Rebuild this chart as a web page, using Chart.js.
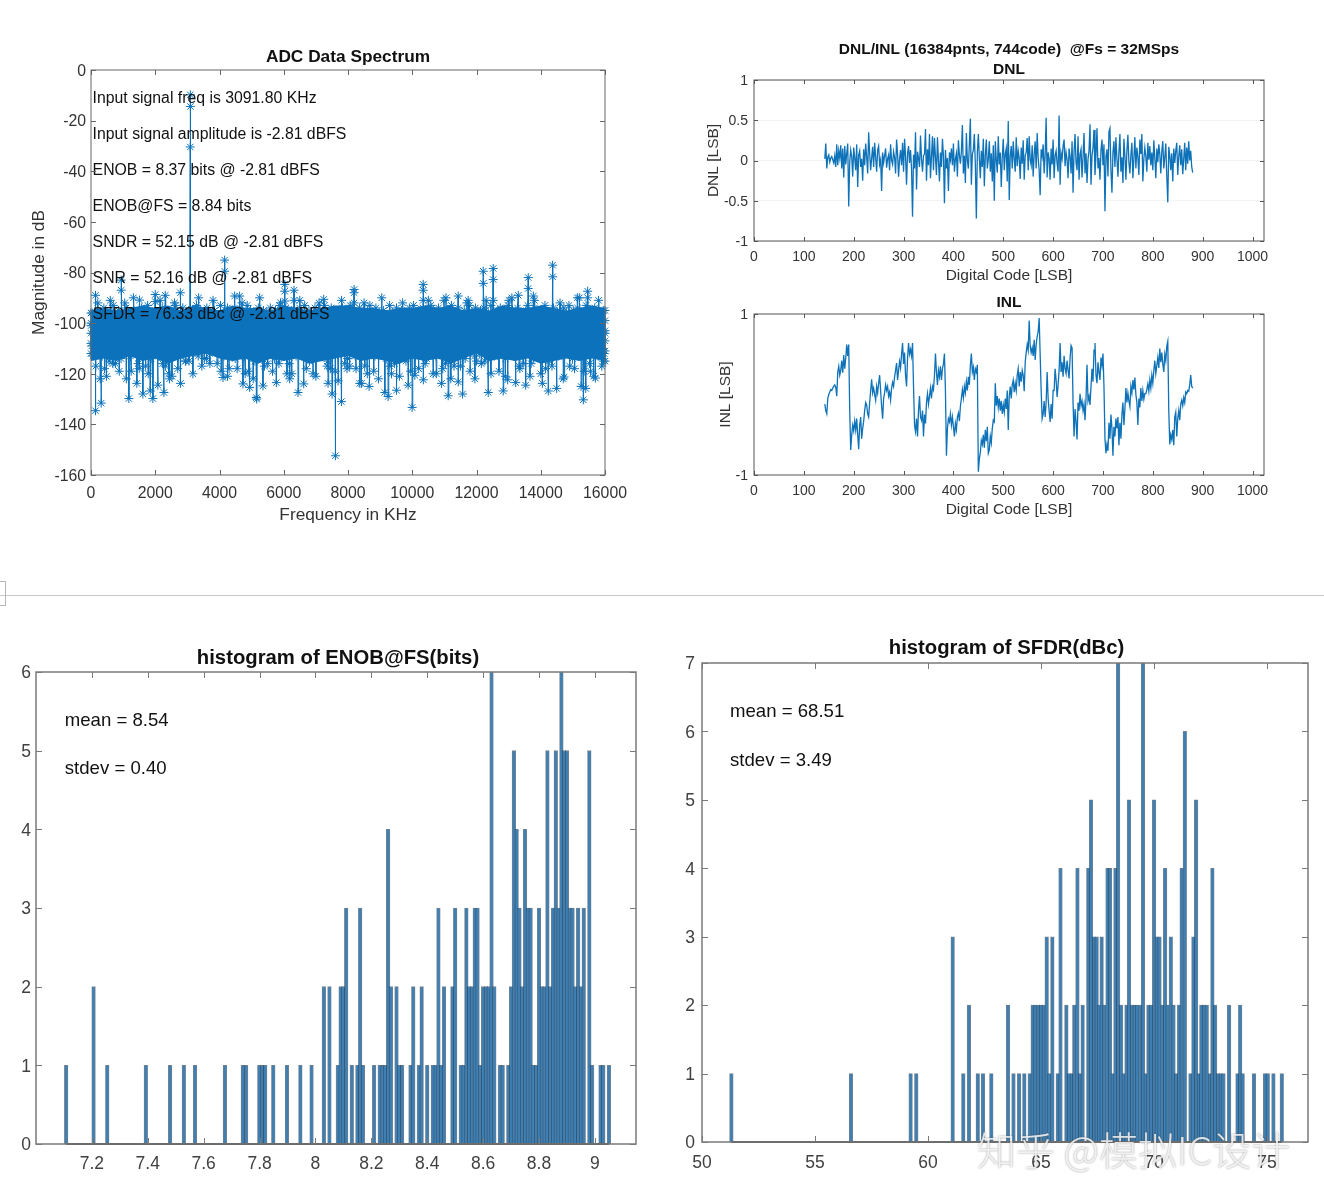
<!DOCTYPE html>
<html>
<head>
<meta charset="utf-8">
<title>ADC test report</title>
<script src="https://cdn.jsdelivr.net/npm/chart.js@4/dist/chart.umd.min.js"></script>
<style>
  html, body { margin: 0; padding: 0; background: #fff; }
  body { position: relative; width: 1324px; height: 1202px; overflow: hidden; }
  canvas { position: absolute; }
  .rule { position: absolute; left: 0; top: 595px; width: 1324px; height: 1px; background: #c9c9c9; }
  .marker { position: absolute; left: -1px; top: 581px; width: 5px; height: 23px; border: 1px solid #b5b5b5; }
  .mark { position: absolute; left: 977px; top: 1120px; font: 300 39px "Noto Sans CJK SC"; white-space: pre;
          color: rgba(255,255,255,.82); text-shadow: 0 0 2px rgba(70,70,70,.6); }
</style>
</head>
<body>
<div class="rule"></div>
<div class="marker"></div>
<script>
// spectrum: noise floor in dB, one value per evenly spaced FFT bin
const noiseDb = [
-101,-109,-96,-104,-112,-98,-106,-100,-95,-110,-103,-97,-108,-113,-99,
-94,-107,-102,-111,-97,-105,-115,-100,-96,-109,-104,-93,-108,-101,-112,
-98,-106,-95,-110,-103,-114,-99,-97,-107,-102,-111,-94,-105,-100,-109,
-96,-113,-103,-98,-108,-95,-106,-111,-101,-97,-116,-104,-99,-110,-94,
-107,-102,-96,-112,-100,-105,-93,-109,-98,-103,-114,-97,-106,-101,-111,
-95,-108,-99,-104,-113,-96,-107,-102,-94,-110,-100,-105,-117,-98,-103,
-109,-95,-112,-101,-97,-106,-111,-99,-93,-108,-104,-96,-113,-102,-107,
-98,-110,-94,-105,-100,-115,-97,-103,-109,-95,-112,-101,-106,-98,-111,
-96,-104,-108,-93,-102,-113,-99,-107,-95,-110,-103,-97,-114,-105,-100,
-94,-109,-101,-112,-96,-106,-98,-104,-111,-95,-108,-102,-116,-97,-107,
-100,-93,-110,-103,-99,-113,-96,-105,-108,-94,-102,-112,-98,-106,-101,
-109,-95,-104,-114,-97,-107,-100,-111,-94,-103,-98,-110,-105,-96,-113,
-102,-108,-93,-106,-99,-112,-95,-104,-109,-97,-101,-115,-96,-107,-103,
-94,-111,-100,-105,-98,-113,-95,-108,-102,-110,-96,-106,-99,-112,-94,
-104,-109,-97,-101,-114,-95,-107,-103,-111,-98,-93,-105,-110,-100,-96,
-112,-106,-94,-102,-108,-99,-116,-97,-104,-95,-111,-101,-107,-98,-113,
-96,-103,-109,-94,-105,-100,-112,-97,-106,-93,-110,-102,-99,-114,-95,
-108,-104,-96,-111,-101,-107,-94,-113,-98,-105,-100,-109,-95,-103,-112,
-97,-106,-93,-110,-102,-98,-115,-96,-104,-108,-94,-111,-100,-107,-99,
-113,-95,-105,-101,-109,-97,-103,-112,-94,-106,-98,-110,-96,-102,-114,
-100,-108,-93,-104,-111,-95,-107,-99,-113,-97,-105,-101,-109,-94,-103,
-112,-96,-106,-98,-117,-100,-110,-95,-104,-108,-93,-102,-111,-97,-107,
-99,-113,-94,-105,-101,-109,-96,-103,-112,-98,-106,-95,-110,-100,-114,
-97,-104,-108,-93,-102,-111,-96,-107,-99,-105,-113,-94,-101,-109,-98,
-103,-112,-95,-106,-97,-110,-100,-115,-96,-104,-108,-94,-102,-111,-99,
-107,-93,-105,-113,-98,-101,-109,-95,-103,-112,-97,-106,-94,-110,-100,
-96,-114,-104,-108,-99,-102,-93,-111,-107,-95,-105,-98,-113,-101,-109,
-94,-103,-112,-97,-106,-100,-110,-96,-116,-104,-95,-108,-102,-99,-111,
-93,-107,-105,-98,-113,-101,-96,-109,-94,-103,-112,-100,-106,-97,-110,
-95,-114,-104,-99,-108,-102,-93,-111,-96,-107,-105,-98,-113,-94,-101,
-109,-97,-103,-112,-95,-106,-100,-110,-94,-115,-104,-98,-108,-96,-102,
-111,-93,-107,-99,-105,-113,-97,-101,-109,-95,-103,-112,-94,-106,-100,
-110,-98,-104,-114,-96,-108,-93,-102,-111,-99,-107,-95,-105,-113,-97,
-101,-109,-94,-103,-117,-100,-106,-96,-110,-98,-104,-112,-95,-108,-93,
-102,-111,-97,-107,-99,-105,-114,-94,-101,-109,-96,-103,-113,-98,-106,
-95,-110,-100,-104,-93,-112,-108,-97,-102,-115,-96,-107,-99,-111,-94,
-105,-101,-109,-98,-103,-113,-95,-106,-97,-110,-100,-94,-104,-112,-96,
-108,-102,-93,-111,-99,-107,-114,-95,-105,-98,-101,-109,-94,-103,-113,
-97,-106,-100,-110,-96,-104,-112,-93,-108,-102,-99,-116,-95,-107,-98,
-105,-111,-94,-101,-109,-97,-113,-103,-96,-106,-100,-110,-95,-112,-104
];
// spurs, dips and the input tone, placed on top of the noise floor
const spurFreq = [140,140,287,318,940,940,1178,1427,1511,1614,1845,1926,2000,2000,2082,2270,2311,2446,2780,2789,
  3090,3091.8,3094,3172,4109,4160,4160,4472,4627,4731,4939,5147,5160,5354,5770,6030,6030,6030,6185,6320,6320,6445,
  6622,6912,7245,7379,7504,7608,7692,7795,7970,8190,8190,8190,8367,8418,8657,9146,9249,9354,9510,9872,9996,10080,
  10340,10340,10340,10345,10912,10985,11118,11430,11432,11566,11740,11950,12210,12210,12365,12520,12520,12520,12832,
  12970,13010,13220,13300,13530,13610,13610,13665,13770,14050,14235,14370,14370,14495,14725,15140,15255,15325,15400,
  15460,15460,15700,15950];
const spurDb = [-89,-134.6,-122,-131.6,-83,-87,-129.8,-123.8,-90.9,-128,-126.8,-129.8,-88.7,-91.5,-124.5,-127.4,-89,-122,-88,-123.8,
  -30.4,-9.8,-14.4,-120,-121.5,-75.1,-79.5,-89.3,-89.3,-124,-125.4,-129.4,-130,-124.8,-123.5,-84.7,-87.4,-91.3,-122,-87,-91,-127.4,
  -124,-120,-90.6,-123.8,-128,-152.4,-122.8,-131,-118,-86.7,-88,-92,-123.8,-123.8,-125,-127.4,-129,-120,-126.5,-124.5,-133.3,-120.6,
  -84.7,-87,-91,-122.4,-123.8,-91,-128.7,-89.3,-123.2,-128,-91,-122,-79.5,-84.3,-127.4,-78.4,-82.8,-91,-126.8,
  -122.4,-91,-123.5,-89,-124.5,-82,-86.3,-121,-89.3,-123.8,-126.8,-77.1,-81.7,-125.8,-121.3,-90,-125,-130.3,-125.8,
  -87.4,-90,-121.7,-115];
// smaller excursions along both edges of the floor, plus the first and last bins
const fringeFreq = [60,210,420,600,760,1050,1250,1320,1700,2150,2420,2600,2950,3350,3600,3800,4300,4700,4900,5250,5500,5900,6100,6500,6800,7100,
  7450,7800,8050,8500,8800,9050,9450,9700,10200,10500,10750,11050,11300,11700,12000,12300,12700,13100,13450,13800,14150,14600,14900,15200,15550,15800,
  0,0,0,0,0,16000,16000,16000,16000,16000,16000,
  150,480,680,880,1100,1500,1780,2230,2520,2700,3050,3450,3700,4050,4250,4550,4800,5050,5400,5650,5850,6250,6700,7000,7350,
  7600,7900,8250,8600,8950,9300,9600,9950,10400,10650,10950,11200,11500,11800,12150,12450,12900,13350,13700,14000,14350,14700,15050,15350,15650,15900];
const fringeDb = [-113,-92,-118,-91,-116,-92,-119,-90,-117,-91,-120,-92,-115,-90,-114,-91,-118,-92,-119,-90,-116,-92,-120,-91,-115,-92,
  -118,-91,-117,-92,-119,-90,-116,-92,-118,-91,-120,-90,-117,-92,-115,-91,-119,-90,-116,-91,-118,-92,-117,-90,-119,-91,
  -96,-100,-104,-108,-112,-95,-99,-103,-107,-111,-115,
  -117,-121,-116,-119,-122,-118,-120,-116,-121,-118,-115,-117,-116,-119,-121,-118,-120,-122,-117,-119,-116,-120,-118,-121,-117,
  -119,-116,-118,-120,-122,-117,-121,-119,-116,-120,-118,-122,-117,-119,-116,-120,-121,-118,-116,-120,-117,-122,-118,-119,-121,-117];
// solid part of the floor, upper and lower limit, one value every 400 KHz
const bandFreq = [0,400,800,1200,1600,2000,2400,2800,3200,3600,4000,4400,4800,5200,5600,6000,6400,6800,7200,7600,
  8000,8400,8800,9200,9600,10000,10400,10800,11200,11600,12000,12400,12800,13200,13600,14000,14400,14800,15200,15600,16000];
const bandHiDb = [-95,-94,-95,-94,-93,-94,-93,-95,-93,-94,-95,-93,-94,-94,-95,-93,-94,-95,-94,-93,
  -93,-94,-94,-95,-94,-94,-93,-94,-93,-95,-94,-95,-93,-94,-94,-93,-94,-95,-94,-93,-94];
const bandLoDb = [-115,-114,-115,-113,-115,-114,-116,-114,-113,-112,-114,-115,-114,-116,-114,-115,-114,-116,-115,-114,
  -113,-115,-114,-115,-116,-114,-115,-114,-116,-114,-112,-115,-114,-115,-114,-116,-115,-114,-115,-114,-115];
const specXTicks = [0,2000,4000,6000,8000,10000,12000,14000,16000];
const specYTicks = [-160,-140,-120,-100,-80,-60,-40,-20,0];
const specNoteText = ['Input signal freq is 3091.80 KHz','Input signal amplitude is -2.81 dBFS','ENOB = 8.37 bits @ -2.81 dBFS',
  'ENOB@FS = 8.84 bits','SNDR = 52.15 dB @ -2.81 dBFS','SNR = 52.16 dB @ -2.81 dBFS','SFDR = 76.33 dBc @ -2.81 dBFS'];
const specNoteDb = [-11.3,-25.5,-39.7,-53.9,-68.1,-82.3,-96.5];

// DNL and INL, every second code starting from the first hit code
const firstCode = 142;
const codeStep = 2;
const dnlValues = [
 .02,.21,-.10,.04,.07,-.02,.03,.05,.01,-.03,
 .06,-.08,.20,-.06,.12,.03,.19,-.10,.15,-.21,
 .18,-.05,.09,.21,-.57,-.02,.13,.05,-.20,.16,
 .03,-.12,.20,-.33,.07,.12,-.08,.02,-.25,.14,
 -.06,.21,.05,-.16,.35,.09,-.12,.03,.17,-.08,
 .22,.04,-.14,.13,.18,-.05,.01,-.38,.10,-.03,
 .06,.15,-.09,.02,.07,-.12,.20,.00,-.05,.11,
 .04,-.16,.26,.08,-.20,.02,.13,-.06,.22,-.14,
 .27,.05,-.30,.09,.18,-.03,.13,-.10,-.70,.07,
 -.10,.35,-.36,.11,.03,-.08,.31,.02,-.14,.06,
 .08,.39,-.25,.14,-.06,.33,-.22,.05,.30,-.12,
 .28,.04,-.18,.29,.00,-.26,.10,-.08,.27,.06,
 -.53,.13,-.10,.03,-.38,.10,.01,.15,-.06,.21,
 -.14,.02,.09,-.20,.25,.07,-.04,.11,.44,-.16,
 .06,-.28,.34,.00,-.10,.20,.52,-.30,.08,.13,
 .33,-.05,-.72,.10,.33,.03,-.22,.12,-.08,.27,
 -.32,.06,.26,-.10,.02,.24,-.14,.09,-.26,.19,
 -.50,.24,.01,-.15,.30,-.05,.10,-.33,.04,.27,
 -.12,.08,.15,-.26,.49,-.49,.06,.18,-.10,.24,
 .02,-.14,.29,-.07,.12,.03,-.23,.16,-.04,.25,
 -.24,.06,.10,.28,-.12,.30,.01,-.06,.19,-.20,
 .08,.24,-.10,.34,.03,-.12,-.43,.14,.05,.20,
 -.16,.07,.53,-.21,.10,.02,-.24,.15,-.05,.26,
 -.22,.06,.12,-.04,-.14,.56,-.30,.09,.02,.18,
 .26,-.07,.10,.01,-.22,.15,.05,-.16,.24,-.40,
 .11,.33,-.03,-.12,.30,-.24,.08,.14,-.21,.05,
 .34,-.16,.09,-.28,.02,.12,.45,-.30,.06,.16,
 .38,-.18,.07,.40,-.10,.03,-.24,.13,.26,-.06,
 .20,-.63,.05,.14,-.20,.36,.40,-.12,-.40,.10,
 .24,-.08,.29,.02,-.20,.10,.33,-.14,.04,-.28,
 .27,.06,-.24,.12,.32,-.02,-.16,.07,.22,-.22,
 .03,.29,-.10,.16,.04,-.18,.26,.08,.33,-.26,
 .02,.16,.05,-.14,.22,.01,.18,-.06,.10,-.12,
 .25,.03,-.22,.15,-.02,.20,.08,-.16,.11,.24,
 -.10,.04,.21,-.20,-.52,.17,.06,-.12,.09,-.26,
 .15,-.03,.12,.22,-.18,.05,.19,-.06,.14,-.17,
 .02,.22,-.12,.16,-.04,.24,.00,.12,-.08,-.15
];
const inlValues = [
 -.12,-.20,-.24,-.05,.00,.03,.06,.05,.08,.10,
 .12,.09,-.02,.28,.35,.24,.30,.42,.27,.49,
 .32,.45,.62,.48,.62,-.20,-.69,-.50,-.38,-.45,
 -.33,-.44,-.30,-.50,-.68,-.38,-.28,-.55,-.42,-.33,
 -.20,-.10,-.13,-.24,-.28,-.10,.05,.19,.02,.08,
 .00,-.07,.10,.02,.14,.24,.05,-.15,-.30,-.05,
 .02,.12,.05,.10,-.02,.03,-.07,.08,.15,.10,
 .22,.30,.39,.18,.30,.41,.33,.50,.64,.38,
 .52,.24,.10,.45,.64,.50,.56,.48,.64,.10,
 -.38,-.46,-.30,-.52,-.20,-.02,-.28,-.32,-.20,-.52,
 -.25,-.36,-.10,.01,-.12,-.02,.08,-.05,.10,.06,
 .24,.51,.28,.12,.30,.22,.35,.18,.32,.38,
 .51,.05,-.76,-.42,-.30,-.34,-.24,-.38,-.28,-.40,
 -.52,-.36,-.44,-.28,-.23,-.33,-.15,-.05,.06,-.04,
 .10,.02,.16,.05,.22,.12,.36,.51,.28,.34,
 .18,.32,.28,.37,-.96,-.80,-.72,-.57,-.62,-.50,
 -.66,-.44,-.58,-.40,-.73,-.69,-.52,-.60,-.42,-.32,
 -.34,.14,-.14,-.02,-.16,-.05,-.20,-.08,-.24,-.13,
 -.22,-.05,-.18,.05,-.44,-.02,.10,-.05,.12,.18,
 .03,.14,.05,.24,.32,.10,.28,.16,.30,.24,
 .04,.40,.52,.62,.55,.92,.60,.52,.58,.48,
 .68,.43,.62,.72,.78,.95,.50,.05,-.30,-.24,
 -.08,-.28,-.10,.28,-.05,-.20,-.34,-.12,-.30,.05,
 .05,.32,.18,-.03,.12,.30,.64,.28,.40,.22,
 .48,.32,.26,.42,.30,.20,.45,.61,.58,-.10,
 -.52,-.18,-.34,-.56,-.10,-.20,.01,-.14,-.08,-.20,
 -.12,-.32,-.05,.37,-.08,-.02,-.13,.10,.32,.16,
 .55,.64,.24,.14,.40,.28,.18,.46,.36,.51,
 .10,-.55,-.73,-.62,-.70,-.35,-.55,-.25,-.42,-.76,
 -.40,-.52,-.30,-.42,-.28,-.63,-.35,-.55,-.25,-.10,
 -.38,-.18,.08,-.10,.02,-.08,-.15,.10,.02,.18,
 .06,.21,.00,-.10,-.38,-.05,-.16,.08,-.08,.05,
 -.06,.01,.01,.06,.13,.04,.18,.08,.24,.14,
 .30,.42,.26,.36,.46,.33,.57,.40,.52,.38,
 .28,.50,.42,.60,.66,-.20,-.62,-.50,-.56,-.44,
 -.63,-.28,-.22,-.52,-.30,-.20,-.32,-.12,-.07,-.14,
 -.04,-.10,.03,.01,.05,.04,.12,.24,.10,.08
];
const codeTicks = [0,100,200,300,400,500,600,700,800,900,1000];
const dnlYTicks = [-1,-.5,0,.5,1];
const inlYTicks = [-1,1];

// histogram of ENOB@FS
const enobBins = [7.108,7.206,7.255,7.393,7.480,7.529,7.569,7.676,7.740,7.752,7.799,7.810,7.820,7.849,7.898,7.946,7.986,
  8.03,8.05,8.08,8.09,8.10,8.11,8.13,8.15,8.16,8.17,8.21,8.23,8.24,8.25,8.26,8.27,8.29,8.30,8.31,8.34,8.35,8.37,8.38,
  8.40,8.42,8.43,8.44,8.45,8.46,8.49,8.50,8.52,8.53,8.54,8.55,8.56,8.57,8.58,8.59,8.60,8.61,8.62,8.63,8.64,8.66,8.67,8.69,
  8.70,8.71,8.72,8.73,8.74,8.75,8.76,8.77,8.78,8.79,8.80,8.81,8.82,8.83,8.84,8.85,8.86,8.87,8.88,8.89,8.90,8.91,8.92,8.93,8.94,8.95,8.96,
  8.98,8.99,9.02,9.03,9.05];
const enobCounts = [1,2,1,1,1,1,1,1,1,1,1,1,1,1,1,1,1,
  2,2,1,2,2,3,1,1,3,1,1,1,1,1,4,2,2,1,1,1,2,1,2,
  1,1,1,3,1,2,2,3,1,1,3,2,2,3,3,1,2,2,2,6,2,1,1,1,
  2,5,4,3,2,4,3,3,1,1,3,2,2,5,2,3,5,3,6,5,5,3,3,2,3,2,3,
  5,1,1,1,1];
const enobXTicks = [7.2,7.4,7.6,7.8,8,8.2,8.4,8.6,8.8,9];
const enobYTicks = [0,1,2,3,4,5,6];

// histogram of SFDR
const sfdrBins = [51.30,56.59,59.23,59.48,61.09,61.56,61.81,62.20,62.43,62.80,63.54,63.78,64.03,64.26,64.50,64.63,64.75,64.88,65.00,65.12,
  65.25,65.37,65.50,65.74,65.86,66.12,66.24,66.36,66.47,66.61,66.73,66.84,67.09,67.21,67.35,67.46,67.58,67.68,67.80,67.94,
  68.05,68.17,68.29,68.41,68.54,68.66,68.78,68.89,69.03,69.14,69.26,69.40,69.51,69.63,69.75,69.88,70.00,70.12,70.24,70.37,
  70.49,70.60,70.74,70.86,70.97,71.11,71.22,71.36,71.61,71.74,71.86,71.98,72.09,72.21,72.33,72.48,72.58,72.70,72.83,72.95,
  73.07,73.32,73.69,73.81,73.92,74.42,74.91,75.03,75.28,75.65];
const sfdrCounts = [1,1,1,1,3,1,2,1,1,1,2,1,1,1,1,2,2,2,2,2,
  3,1,3,1,4,2,1,1,2,4,1,2,4,5,3,3,2,3,2,4,
  4,1,4,7,2,1,2,5,2,2,2,2,7,1,2,2,5,3,3,2,
  4,2,3,2,1,2,4,6,1,3,5,1,2,2,2,1,4,2,1,1,
  1,2,1,2,1,1,1,1,1,1];
const sfdrXTicks = [50,55,60,65,70,75];
const sfdrYTicks = [0,1,2,3,4,5,6,7];

Chart.defaults.font.family = '"Liberation Sans", Arial, sans-serif';
Chart.defaults.animation = false;

// box around the plot with inward tick marks on all four sides
const boxFrame = {
  id: 'boxFrame',
  afterDraw(chart, args, o) {
    const {ctx, chartArea: a, scales} = chart;
    ctx.save();
    ctx.strokeStyle = o.color;
    ctx.lineWidth = o.width;
    ctx.strokeRect(a.left, a.top, a.right - a.left, a.bottom - a.top);
    ctx.lineWidth = 1;
    ctx.beginPath();
    for (const t of scales.x.ticks) {
      const px = Math.round(scales.x.getPixelForValue(t.value)) + .5;
      ctx.moveTo(px, a.top); ctx.lineTo(px, a.top + o.tick);
      ctx.moveTo(px, a.bottom); ctx.lineTo(px, a.bottom - o.tick);
    }
    for (const t of scales.y.ticks) {
      const py = Math.round(scales.y.getPixelForValue(t.value)) + .5;
      ctx.moveTo(a.left, py); ctx.lineTo(a.left + o.tick, py);
      ctx.moveTo(a.right, py); ctx.lineTo(a.right - o.tick, py);
    }
    ctx.stroke();
    ctx.restore();
  }
};

// text placed in data coordinates inside the axes
const plotNotes = {
  id: 'plotNotes',
  afterDatasetsDraw(chart, args, o) {
    const {ctx, scales} = chart;
    ctx.save();
    ctx.fillStyle = o.color || '#111';
    ctx.font = o.size + 'px "Liberation Sans", Arial, sans-serif';
    ctx.textBaseline = 'middle';
    (o.lines || []).forEach((text, i) => {
      ctx.fillText(text, scales.x.getPixelForValue(o.x), scales.y.getPixelForValue(o.y[i]));
    });
    ctx.restore();
  }
};

function fixedTicks(list) {
  return scale => { scale.ticks = list.map(value => ({value})); };
}

// p holds the pixel box of the plot, the rest of the canvas is sized around it
function makeChart(p) {
  const blockH = p.titleLines.length * p.titleLine;
  const topH = Math.ceil(blockH + p.titlePad);
  const canvas = document.createElement('canvas');
  canvas.width = p.right - p.left + p.side + p.rightSide;
  canvas.height = p.bottom - p.top + topH + p.under;
  canvas.style.left = (p.left - p.side) + 'px';
  canvas.style.top = (p.top - topH) + 'px';
  document.body.appendChild(canvas);

  const axis = (min, max, ticks, label, pad, fit, grid, shift) => ({
    type: 'linear', min, max, offset: false,
    afterBuildTicks: fixedTicks(ticks),
    afterFit: fit,
    grid: grid ? {color: grid, drawTicks: false} : {display: false, drawTicks: false},
    border: {display: false},
    ticks: {color: p.tickColor, font: {size: p.tickSize}, padding: pad, maxRotation: 0, autoSkip: false,
      labelOffset: shift || 0, callback: v => String(v)},
    title: {display: !!label, text: label, color: p.labelColor, font: {size: p.labelSize}, padding: 0}
  });

  return new Chart(canvas, {
    type: p.type,
    data: {datasets: p.datasets},
    plugins: [boxFrame, plotNotes],
    options: {
      responsive: false,
      scales: {
        x: axis(p.xMin, p.xMax, p.xTicks, p.xLabel, p.xPad, s => { s.height = p.under; }),
        y: axis(p.yMin, p.yMax, p.yTicks, p.yLabel, p.yPad, s => { s.width = p.side; }, p.yGrid, p.yShift),
        // empty right axis keeps the title centred over the canvas
        spacer: {type: 'linear', position: 'right', grid: {display: false, drawTicks: false}, border: {display: false},
          ticks: {display: false}, afterFit: s => { s.width = p.rightSide; }}
      },
      plugins: {
        legend: {display: false},
        tooltip: {enabled: false},
        title: {display: true, text: p.titleLines, color: '#111',
          font: {size: p.titleSize, weight: 'bold', lineHeight: p.titleLine / p.titleSize},
          padding: {top: 0, bottom: topH - blockH}},
        boxFrame: {color: p.frame, width: p.frameW, tick: p.tickLen},
        plotNotes: p.notes || {}
      }
    }
  });
}

function lineSeries(values, width) {
  return [{
    data: values.map((y, i) => ({x: firstCode + i * codeStep, y})),
    borderColor: '#0e72b8', borderWidth: width, pointRadius: 0, tension: 0
  }];
}

function histSeries(bins, counts, width) {
  return [{
    type: 'bar',
    data: bins.map((x, i) => ({x, y: counts[i]})),
    barThickness: width,
    backgroundColor: '#3f7fb2',
    borderColor: 'rgba(30,48,66,.6)',
    borderWidth: .8,
    borderSkipped: false,
    order: 2
  }, {
    type: 'line',
    data: [{x: bins[0], y: 0}, {x: bins[bins.length - 1], y: 0}],
    borderColor: '#4a4a4a', borderWidth: 2, pointRadius: 0, clip: false,
    order: 1
  }];
}

// noise bins, spurs and edge excursions merged into one frequency ordered trace
const noiseStep = 16000 / (noiseDb.length - 1);
const specPoints = noiseDb.map((y, i) => ({x: i * noiseStep, y}))
  .concat(spurFreq.map((x, i) => ({x, y: spurDb[i]})))
  .concat(fringeFreq.map((x, i) => ({x, y: fringeDb[i]})))
  .sort((a, b) => a.x - b.x);

makeChart({
  type: 'line', left: 91, right: 605, top: 70, bottom: 475, side: 62, rightSide: 62, under: 51,
  titleLines: ['ADC Data Spectrum'], titleSize: 17.3, titleLine: 21, titlePad: 2,
  xMin: 0, xMax: 16000, xTicks: specXTicks, xLabel: 'Frequency in KHz', xPad: 9,
  yMin: -160, yMax: 0, yTicks: specYTicks, yLabel: 'Magnitude in dB', yPad: 5, yShift: 1.5,
  tickSize: 15.8, tickColor: '#333', labelSize: 17.3, labelColor: '#333',
  frame: '#666', frameW: 1, tickLen: 5,
  datasets: [{
    data: bandFreq.map((x, i) => ({x, y: bandLoDb[i]})),
    borderWidth: 0, pointRadius: 0, tension: 0
  }, {
    data: bandFreq.map((x, i) => ({x, y: bandHiDb[i]})),
    borderWidth: 0, pointRadius: 0, tension: 0, fill: '-1', backgroundColor: '#0b72bb'
  }, {
    data: specPoints, borderColor: '#0b72bb', borderWidth: 1, tension: 0,
    pointStyle: 'star', pointRadius: 4.5, pointBorderWidth: 1, pointBorderColor: '#0b72bb',
    pointBackgroundColor: 'transparent', clip: false
  }],
  notes: {lines: specNoteText, x: 50, y: specNoteDb, size: 15.8}
});

makeChart({
  type: 'line', left: 754, right: 1264, top: 80, bottom: 241, side: 50, rightSide: 50, under: 44,
  titleLines: ['DNL/INL (16384pnts, 744code)  @Fs = 32MSps', 'DNL'], titleSize: 15.5, titleLine: 20, titlePad: 0,
  xMin: 0, xMax: 1023, xTicks: codeTicks, xLabel: 'Digital Code [LSB]', xPad: 8,
  yMin: -1, yMax: 1, yTicks: dnlYTicks, yLabel: 'DNL [LSB]', yPad: 6, yGrid: '#f3f3f3', yShift: 1,
  tickSize: 14, tickColor: '#333', labelSize: 15.5, labelColor: '#333',
  frame: '#555', frameW: 1, tickLen: 4,
  datasets: lineSeries(dnlValues, 1.3)
});

makeChart({
  type: 'line', left: 754, right: 1264, top: 314, bottom: 475, side: 38, rightSide: 38, under: 44,
  titleLines: ['INL'], titleSize: 15.5, titleLine: 18, titlePad: 2,
  xMin: 0, xMax: 1023, xTicks: codeTicks, xLabel: 'Digital Code [LSB]', xPad: 8,
  yMin: -1, yMax: 1, yTicks: inlYTicks, yLabel: 'INL [LSB]', yPad: 6, yShift: 1,
  tickSize: 14, tickColor: '#333', labelSize: 15.5, labelColor: '#333',
  frame: '#555', frameW: 1, tickLen: 4,
  datasets: lineSeries(inlValues, 1.3)
});

makeChart({
  type: 'bar', left: 36, right: 636, top: 672, bottom: 1144, side: 36, rightSide: 40, under: 40,
  titleLines: ['histogram of ENOB@FS(bits)'], titleSize: 20.3, titleLine: 24, titlePad: 2,
  xMin: 7, xMax: 9.147, xTicks: enobXTicks, xPad: 10,
  yMin: 0, yMax: 6, yTicks: enobYTicks, yPad: 5, yShift: 1.5,
  tickSize: 17.5, tickColor: '#404040',
  frame: '#7a7a7a', frameW: 1.5, tickLen: 6,
  datasets: histSeries(enobBins, enobCounts, 3.6),
  notes: {lines: ['mean = 8.54', 'stdev = 0.40'], x: 7.103, y: [5.375, 4.765], size: 18.6}
});

makeChart({
  type: 'bar', left: 702, right: 1308, top: 663, bottom: 1142, side: 40, rightSide: 43, under: 44,
  titleLines: ['histogram of SFDR(dBc)'], titleSize: 20.3, titleLine: 24, titlePad: 3,
  xMin: 50, xMax: 76.81, xTicks: sfdrXTicks, xPad: 11,
  yMin: 0, yMax: 7, yTicks: sfdrYTicks, yPad: 7, yShift: 1.5,
  tickSize: 17.5, tickColor: '#404040',
  frame: '#7a7a7a', frameW: 1.5, tickLen: 6,
  datasets: histSeries(sfdrBins, sfdrCounts, 3.6),
  notes: {lines: ['mean = 68.51', 'stdev = 3.49'], x: 51.24, y: [6.285, 5.565], size: 18.6}
});

const mark = document.createElement('div');
mark.className = 'mark';
mark.textContent = '知乎 @模拟IC设计';
document.body.appendChild(mark);
</script>
</body>
</html>
